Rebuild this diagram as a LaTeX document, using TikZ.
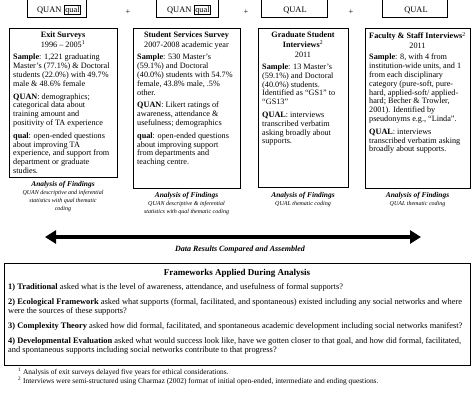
\documentclass[tikz,border=0pt]{standalone}
\usepackage{fontspec}
\setmainfont{Liberation Serif}
\usetikzlibrary{arrows.meta}
\tikzset{
  topbox/.style={draw, line width=0.6pt, minimum height=26pt, anchor=south west, inner sep=0pt},
  mainbox/.style={draw, line width=1.3pt, anchor=north west, inner sep=0pt},
  toptext/.style={font=\fontsize{8.4}{9}\selectfont, inner sep=0pt},
  plus/.style={font=\fontsize{8.4}{9}\selectfont, inner sep=0pt},
  boxtitle/.style={font=\fontsize{8.2}{9.8}\selectfont, align=center, anchor=north, inner sep=0pt},
  boxbody/.style={font=\fontsize{8.2}{8.8}\selectfont, align=left, anchor=north west, inner sep=0pt},
  analysis/.style={font=\fontsize{6}{8}\selectfont\itshape, align=center, anchor=north, inner sep=0pt},
  fwtext/.style={font=\fontsize{8.4}{9}\selectfont, align=left, anchor=base west, inner sep=0pt},
  foot/.style={font=\fontsize{7.4}{8}\selectfont, anchor=base west, inner sep=0pt},
  bigarrow/.style={line width=3.6pt, {Triangle[length=11pt,width=13pt]}-{Triangle[length=11pt,width=13pt]}}
}
\newcommand{\qualbox}{{\setlength{\fboxsep}{0.6pt}\setlength{\fboxrule}{0.5pt}\fbox{qual}}}
\newcommand{\aof}{{\fontsize{7.4}{8}\selectfont\bfseries Analysis of Findings}}
\begin{document}
\begin{tikzpicture}[x=1pt,y=-1pt]
\useasboundingbox (0,0) rectangle (474,402);
% top boxes
\node[topbox, minimum width=59pt] (t1) at (27,18) {};
\node[topbox, minimum width=62pt] (t2) at (156,18) {};
\node[topbox, minimum width=66pt] (t3) at (261,18) {};
\node[topbox, minimum width=65pt] (t4) at (382,18) {};
\node[toptext] (t1x) at (59,10) {QUAN\,\,\qualbox};
\node[toptext] (t2x) at (189,10) {QUAN\,\,\qualbox};
\node[toptext] (t3x) at (295,10) {QUAL};
\node[toptext] (t4x) at (416,10) {QUAL};
\node[plus] (p1) at (128,12) {+};
\node[plus] (p2) at (246,12) {+};
\node[plus] (p3) at (351,12) {+};
% main boxes
\node[mainbox, minimum width=108pt, minimum height=149pt] (b1) at (9,28) {};
\node[mainbox, minimum width=107pt, minimum height=160pt] (b2) at (133,28) {};
\node[mainbox, minimum width=90pt, minimum height=159pt] (b3) at (258,28) {};
\node[mainbox, minimum width=105pt, minimum height=160pt] (b4) at (365,28) {};
% box 1
\node[boxtitle] (b1t) at (63,32) {\textbf{Exit Surveys}\\1996 -- 2005\textsuperscript{1}};
\node[boxbody] (b1b) at (13,54) {\textbf{Sample}: 1,221 graduating\\
Master's (77.1\%) \& Doctoral\\
students (22.0\%) with 49.7\%\\
male \& 48.6\% female\\[4pt]
\textbf{QUAN}: demographics;\\
categorical data about\\
training amount and\\
positivity of TA experience\\[4pt]
\textbf{qual}: open-ended questions\\
about improving TA\\
experience, and support from\\
department or graduate\\
studies.};
% box 2
\node[boxtitle] (b2t) at (186.5,32) {\textbf{Student Services Survey}\\2007-2008 academic year};
\node[boxbody] (b2b) at (137,54) {\textbf{Sample}: 530 Master's\\
(59.1\%) and Doctoral\\
(40.0\%) students with 54.7\%\\
female, 43.8\% male, .5\%\\
other.\\[4pt]
\textbf{QUAN}: Likert ratings of\\
awareness, attendance \&\\
usefulness; demographics\\[4pt]
\textbf{qual}: open-ended questions\\
about improving support\\
from departments and\\
teaching centre.};
% box 3
\node[boxtitle] (b3t) at (303,32) {\textbf{Graduate Student}\\\textbf{Interviews}\textsuperscript{2}\\2011};
\node[boxbody] (b3b) at (262,63.6) {\textbf{Sample}: 13 Master's\\
(59.1\%) and Doctoral\\
(40.0\%) students.\\
Identified as ``GS1'' to\\
``GS13''\\[4pt]
\textbf{QUAL}: interviews\\
transcribed verbatim\\
asking broadly about\\
supports.};
% box 4
\node[boxtitle] (b4t) at (417.5,32) {\textbf{Faculty \& Staff Interviews}\textsuperscript{2}\\2011};
\node[boxbody] (b4b) at (369,54) {\textbf{Sample}: 8, with 4 from\\
institution-wide units, and 1\\
from each disciplinary\\
category (pure-soft, pure-\\
hard, applied-soft/ applied-\\
hard; Becher \& Trowler,\\
2001). Identified by\\
pseudonyms e.g., ``Linda''.\\[4pt]
\textbf{QUAL}: interviews\\
transcribed verbatim asking\\
broadly about supports.};
% analysis labels
\node[analysis] (a1) at (63,181) {\aof\\QUAN descriptive and inferential\\statistics with qual thematic\\coding};
\node[analysis] (a2) at (186.5,192) {\aof\\QUAN descriptive \& inferential\\statistics with qual thematic coding};
\node[analysis] (a3) at (303,192) {\aof\\QUAL thematic coding};
\node[analysis] (a4) at (417.5,192) {\aof\\QUAL thematic coding};
% arrow
\coordinate (al) at (45,237);
\coordinate (ar) at (421,237);
\draw[bigarrow] (al) -- (ar);
\node[inner sep=0pt, font=\fontsize{8}{9}\selectfont\bfseries\itshape] (dr) at (240,250) {Data Results Compared and Assembled};
% frameworks box
\node[draw, line width=1.4pt, anchor=north west, minimum width=466pt, minimum height=102pt, inner sep=0pt] (fw) at (4,263) {};
\node[inner sep=0pt, font=\fontsize{9}{10}\selectfont\bfseries] (fwt) at (237,273) {Frameworks Applied During Analysis};
\node[fwtext] (f1) at (8,289.5) {\textbf{1) Traditional} asked what is the level of awareness, attendance, and usefulness of formal supports?};
\node[fwtext] (f2) at (8,313.5) {\textbf{2) Ecological Framework} asked what supports (formal, facilitated, and spontaneous) existed including any social networks and where\\were the sources of these supports?};
\node[fwtext] (f3) at (8,328.5) {\textbf{3) Complexity Theory} asked how did formal, facilitated, and spontaneous academic development including social networks manifest?};
\node[fwtext] (f4) at (8,352.5) {\textbf{4) Developmental Evaluation} asked what would success look like, have we gotten closer to that goal, and how did formal, facilitated,\\and spontaneous supports including social networks contribute to that progress?};
% footnotes
\node[foot] (fn1) at (18,374.5) {\textsuperscript{1} Analysis of exit surveys delayed five years for ethical considerations.};
\node[foot] (fn2) at (18,383.5) {\textsuperscript{2} Interviews were semi-structured using Charmaz (2002) format of initial open-ended, intermediate and ending questions.};
\end{tikzpicture}
\end{document}
